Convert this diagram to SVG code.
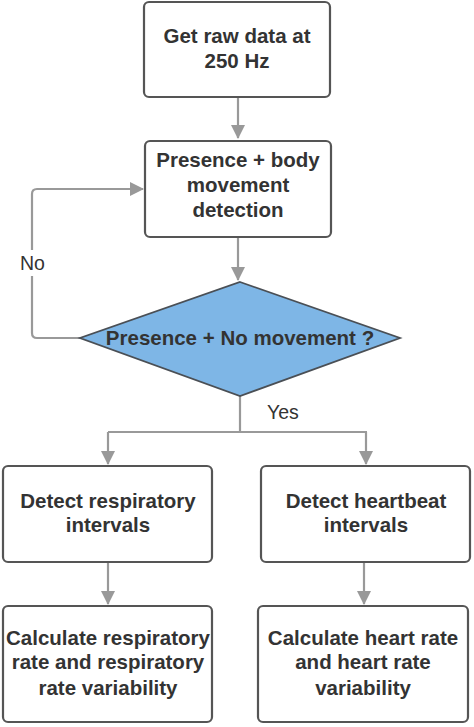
<svg xmlns="http://www.w3.org/2000/svg" width="474" height="727" viewBox="0 0 474 727">
<defs>
<style>
.box{fill:#fff;stroke:#555;stroke-width:2.2}
.dia{fill:#7eb6e6;stroke:#4a4f55;stroke-width:1.8}
.t{font-family:"Liberation Sans",Arial,sans-serif;font-weight:bold;font-size:20.5px;fill:#333;text-anchor:middle}
.lbl{font-family:"Liberation Sans",Arial,sans-serif;font-size:19.5px;fill:#333}
.c{fill:none;stroke:#999;stroke-width:2.2}
</style>
<marker id="ah" markerWidth="14" markerHeight="14" viewBox="0 0 14 14" refX="13" refY="7" orient="auto" markerUnits="userSpaceOnUse">
<path d="M0,0 L14,7 L0,14 Z" fill="#999"/>
</marker>
</defs>
<rect width="474" height="727" fill="#fff"/>
<g id="connectors">
<path class="c" d="M238,97 V138" marker-end="url(#ah)"/>
<path class="c" d="M238,237 V280" marker-end="url(#ah)"/>
<path class="c" d="M80,338 H37 Q32,338 32,333 V194 Q32,189 37,189 H143" marker-end="url(#ah)"/>
<path class="c" d="M240,396 V432"/>
<path class="c" d="M108,432 H367"/>
<path class="c" d="M108,432 V464" marker-end="url(#ah)"/>
<path class="c" d="M366,432 V464" marker-end="url(#ah)"/>
<path class="c" d="M108,562 V604" marker-end="url(#ah)"/>
<path class="c" d="M364,562 V604" marker-end="url(#ah)"/>
<rect x="16" y="250" width="34" height="26" fill="#fff"/>
<text class="lbl" x="20" y="270">No</text>
<text class="lbl" x="267" y="419">Yes</text>
</g>
<g id="n1">
<rect class="box" x="144" y="2" width="186" height="95" rx="5"/>
<text class="t" x="237" y="43">Get raw data at</text>
<text class="t" x="237" y="68">250 Hz</text>
</g>
<g id="n2">
<rect class="box" x="145" y="141" width="186" height="96" rx="5"/>
<text class="t" x="238" y="167">Presence + body</text>
<text class="t" x="238" y="192">movement</text>
<text class="t" x="238" y="217">detection</text>
</g>
<g id="n3">
<polygon class="dia" points="240,282 400,338 240,396 80,338"/>
<text class="t" x="240" y="345" fill="#1e2a38">Presence + No movement ?</text>
</g>
<g id="n4">
<rect class="box" x="3" y="466" width="209" height="96" rx="5"/>
<text class="t" x="108" y="508">Detect respiratory</text>
<text class="t" x="108" y="532">intervals</text>
</g>
<g id="n5">
<rect class="box" x="261" y="466" width="209" height="96" rx="5"/>
<text class="t" x="366" y="508">Detect heartbeat</text>
<text class="t" x="366" y="532">intervals</text>
</g>
<g id="n6">
<rect class="box" x="3" y="606" width="209" height="116" rx="5"/>
<text class="t" x="108" y="645">Calculate respiratory</text>
<text class="t" x="108" y="669">rate and respiratory</text>
<text class="t" x="108" y="695">rate variability</text>
</g>
<g id="n7">
<rect class="box" x="258" y="606" width="210" height="116" rx="5"/>
<text class="t" x="363" y="645">Calculate heart rate</text>
<text class="t" x="363" y="669">and heart rate</text>
<text class="t" x="363" y="695">variability</text>
</g>
</svg>
